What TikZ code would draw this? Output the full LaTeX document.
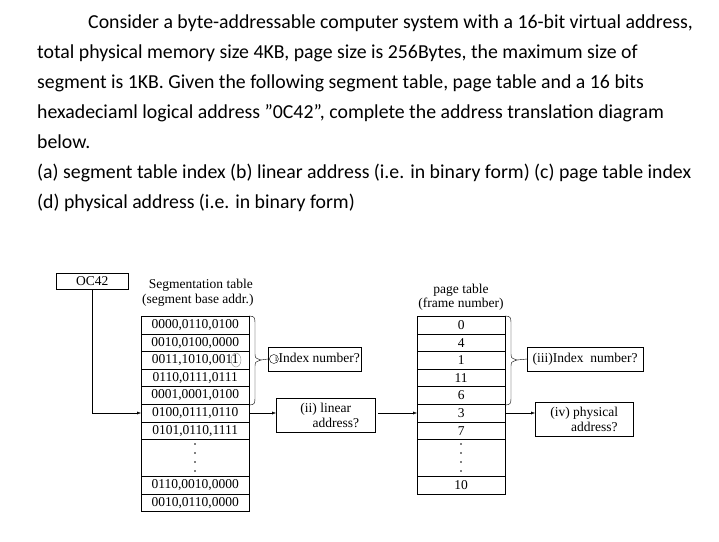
\documentclass[tikz,border=0pt]{standalone}
\usepackage{fontspec}
\setmainfont{Carlito}
\newfontfamily\dfont{Liberation Serif}
\usetikzlibrary{arrows.meta}
\begin{document}
\begin{tikzpicture}[x=1pt,y=-1pt,
  para/.style={anchor=base west,inner sep=0,font=\fontsize{19.8}{22}\selectfont},
  dft/.style={font=\dfont\fontsize{13.5}{14.5}\selectfont},
  cell/.style={draw,dft,minimum width=108pt,minimum height=17.6pt,inner sep=0,anchor=north west},
  pcell/.style={cell,minimum width=88pt},
  dcell/.style={draw,minimum width=108pt,minimum height=37pt,inner sep=0,anchor=north west},
  qbox/.style={draw,dft,inner sep=1pt,anchor=north west,align=center},
  lbl/.style={dft,align=left,inner sep=0},
  arr/.style={-{Latex[length=4pt,width=3pt]}},
  dot/.style={fill,circle,inner sep=0,minimum size=1.6pt}]
\useasboundingbox (0,0) rectangle (719,541);
\node[para] (t1) at (88,28) {Consider a byte-addressable computer system with a 16-bit virtual address,};
\node[para] (t2) at (37,58) {total physical memory size 4KB, page size is 256Bytes, the maximum size of};
\node[para] (t3) at (37,88) {segment is 1KB. Given the following segment table, page table and a 16 bits};
\node[para] (t4) at (37,118) {hexadeciaml logical address "0C42", complete the address translation diagram};
\node[para] (t5) at (37,148) {below.};
\node[para] (t6) at (37,178) {(a) segment table index (b) linear address (i.e. in binary form) (c) page table index};
\node[para] (t7) at (37,208) {(d) physical address (i.e. in binary form)};
% logical address
\node[draw,dft,minimum width=72pt,minimum height=16pt,inner sep=0,anchor=north west] (la) at (56,273) {OC42};
% segment table
\node[lbl,anchor=north west] (sl) at (142,279) {\ \ Segmentation table\\(segment base addr.)};
\node[cell] (s1) at (141,316) {0000,0110,0100};
\node[cell] (s2) at (141,333.6) {0010,0100,0000};
\node[cell] (s3) at (141,351.2) {0011,1010,0011};
\node[cell] (s4) at (141,368.8) {0110,0111,0111};
\node[cell] (s5) at (141,386.4) {0001,0001,0100};
\node[cell] (s6) at (141,404) {0100,0111,0110};
\node[cell] (s7) at (141,421.6) {0101,0110,1111};
\node[dcell] (sd) at (141,439.2) {};
\foreach \k in {0,1,2,3} \node[dot] at (195,444+\k*9) {};
\node[cell] (s8) at (141,476.2) {0110,0010,0000};
\node[cell] (s9) at (141,493.8) {0010,0110,0000};
\draw[gray] (236,360) ellipse (5pt and 7pt);
\draw[arr] (la.south) |- (s6.west);
\foreach \bx/\nm in {249/b1,505/b2}
  \draw (\bx,316) .. controls (\bx+6,316) and (\bx+6,318) .. (\bx+6,324) -- (\bx+6,353)
     .. controls (\bx+6,358) .. (\bx+12,360) coordinate (\nm) .. controls (\bx+6,362) .. (\bx+6,367)
     -- (\bx+6,397) .. controls (\bx+6,403) and (\bx+6,405) .. (\bx,405);
\node[qbox,anchor=west,minimum height=22pt] (q1) at (268,359) {\tikz[baseline=-3pt]\draw (0,0) circle (4.5pt) node[font=\dfont\fontsize{8}{8}\selectfont]{i};Index number?};
\draw (b1) -- (q1.west);
\node[qbox,minimum width=99pt,minimum height=34pt] (q2) at (276,398) {(\romannumeral2) linear\\\hspace*{1.5em}address?};
\draw[arr] (s6.east) -- (q2.west|-s6.east);
% page table
\node[lbl,align=center] (pl) at (461,297) {page table\\(frame number)};
\node[pcell] (p1) at (417,316) {0};
\node[pcell] (p2) at (417,333.6) {4};
\node[pcell] (p3) at (417,351.2) {1};
\node[pcell] (p4) at (417,368.8) {11};
\node[pcell] (p5) at (417,386.4) {6};
\node[pcell] (p6) at (417,404) {3};
\node[pcell] (p7) at (417,421.6) {7};
\node[dcell,minimum width=88pt] (pd) at (417,439.2) {};
\foreach \k in {0,1,2,3} \node[dot] at (461,444+\k*9) {};
\node[pcell] (p8) at (417,476.2) {10};
\draw[arr] (q2.east|-p6.west) ++(3,0) -- (p6.west);
\draw (b2) -- (527,359);
\node[qbox,anchor=west,minimum width=116pt,minimum height=24pt] (q3) at (527,359) {(\romannumeral3)Index\ \ number?};
\node[qbox,minimum width=98pt,minimum height=34pt] (q4) at (535,402) {(\romannumeral4) physical\\\hspace*{1.5em}address?};
\draw[arr] (p6.east) -- (q4.west|-p6.east);
\end{tikzpicture}
\end{document}
